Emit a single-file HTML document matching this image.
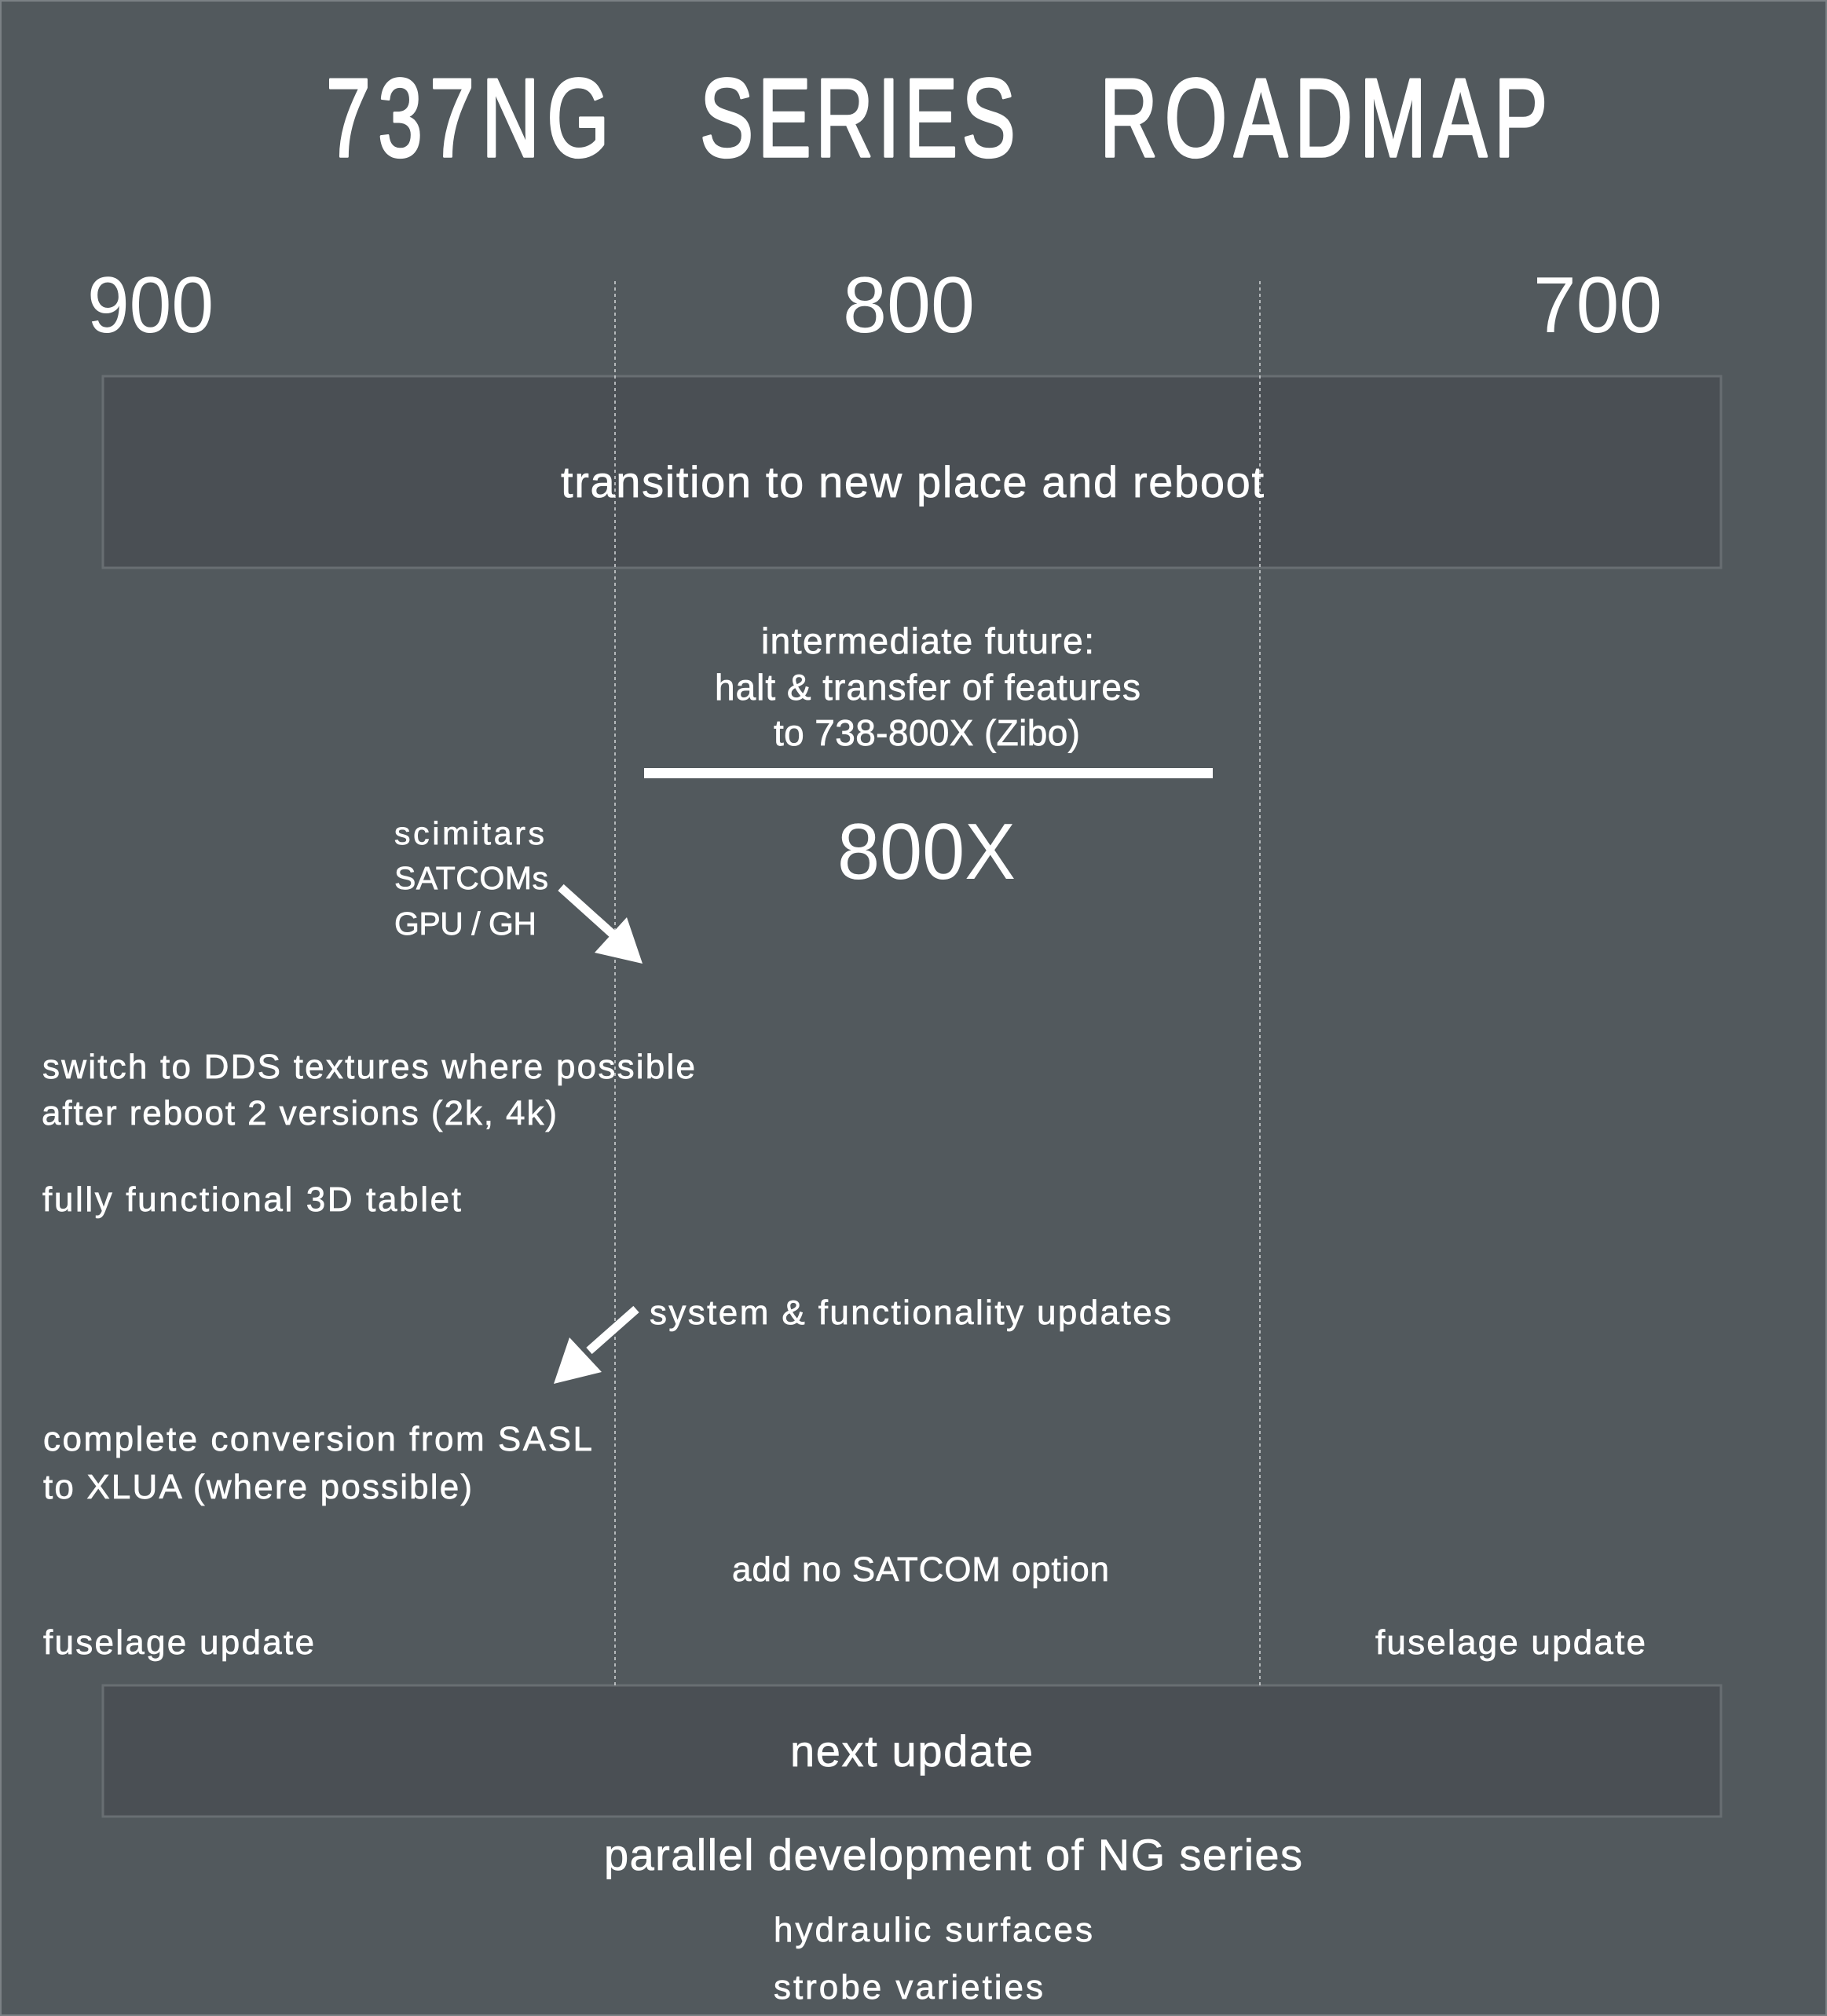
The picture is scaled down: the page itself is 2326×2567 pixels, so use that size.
<!DOCTYPE html>
<html>
<head>
<meta charset="utf-8">
<style>
  html, body { margin: 0; padding: 0; background: #52595d; }
  svg { display: block; }
  text { font-family: "Liberation Sans", "DejaVu Sans", sans-serif; fill: #ffffff; }
  .b { stroke: #ffffff; stroke-width: 0.7; }
  .t { stroke: #ffffff; stroke-width: 3.5; stroke-linejoin: round; }
</style>
</head>
<body>
<svg width="2326" height="2567" viewBox="0 0 2326 2567" xmlns="http://www.w3.org/2000/svg">
  <!-- background -->
  <rect x="0" y="0" width="2326" height="2567" fill="#52595d"/>
  <rect x="1" y="1" width="2324" height="2565" fill="none" stroke="#7b8185" stroke-width="2"/>

  <!-- title (narrowed glyphs, wide tracking) -->
  <g transform="translate(415,199) scale(0.72,1)">
    <text x="0" y="0" font-size="142" textLength="501" lengthAdjust="spacing" class="t">737NG</text>
  </g>
  <g transform="translate(891,199) scale(0.72,1)">
    <text x="0" y="0" font-size="142" textLength="558" lengthAdjust="spacing" class="t">SERIES</text>
  </g>
  <g transform="translate(1400,199) scale(0.72,1)">
    <text x="0" y="0" font-size="142" textLength="792" lengthAdjust="spacing" class="t">ROADMAP</text>
  </g>

  <!-- column headers -->
  <text x="111" y="423" font-size="101" textLength="161" lengthAdjust="spacingAndGlyphs">900</text>
  <text x="1073" y="423" font-size="101" textLength="168" lengthAdjust="spacingAndGlyphs">800</text>
  <text x="1952" y="423" font-size="101" textLength="164" lengthAdjust="spacingAndGlyphs">700</text>

  <!-- top box -->
  <rect x="131" y="479" width="2060" height="244" fill="#4a4f54" stroke="#686e72" stroke-width="3"/>

  <!-- bottom box -->
  <rect x="131" y="2146" width="2060" height="167" fill="#4a4f54" stroke="#686e72" stroke-width="3"/>

  <!-- dotted column dividers -->
  <line x1="783" y1="358" x2="783" y2="2147" stroke="#d4d7d9" stroke-width="1.5" stroke-dasharray="4 4"/>
  <line x1="1604" y1="358" x2="1604" y2="2147" stroke="#d4d7d9" stroke-width="1.5" stroke-dasharray="4 4"/>

  <!-- top box text -->
  <text x="714" y="633" font-size="56" textLength="895" lengthAdjust="spacing" class="b">transition to new place and reboot</text>

  <!-- intermediate future -->
  <text x="969" y="832" font-size="46" textLength="424" lengthAdjust="spacing" class="b">intermediate future:</text>
  <text x="910" y="891" font-size="46" textLength="542" lengthAdjust="spacing" class="b">halt &amp; transfer of features</text>
  <text x="985" y="949" font-size="46" textLength="390" lengthAdjust="spacing" class="b">to 738-800X (Zibo)</text>
  <rect x="820" y="978" width="724" height="13" fill="#ffffff"/>
  <text x="1066" y="1119" font-size="101" textLength="227" lengthAdjust="spacingAndGlyphs">800X</text>

  <!-- scimitars block -->
  <text x="502" y="1075" font-size="41" textLength="191" lengthAdjust="spacing" class="b">scimitars</text>
  <text x="502" y="1132" font-size="41" textLength="196" lengthAdjust="spacing" class="b">SATCOMs</text>
  <text x="502" y="1190" font-size="41" textLength="181" lengthAdjust="spacing" class="b">GPU / GH</text>

  <!-- arrow 1 -->
  <line x1="714" y1="1130" x2="784" y2="1193" stroke="#ffffff" stroke-width="11"/>
  <polygon points="818,1227 757,1213 798,1168" fill="#ffffff"/>

  <!-- left column texts -->
  <text x="54" y="1373" font-size="44" textLength="831" lengthAdjust="spacing" class="b">switch to DDS textures where possible</text>
  <text x="53" y="1432" font-size="44" textLength="656" lengthAdjust="spacing" class="b">after reboot 2 versions (2k, 4k)</text>
  <text x="54" y="1542" font-size="44" textLength="533" lengthAdjust="spacing" class="b">fully functional 3D tablet</text>

  <!-- system updates -->
  <text x="827" y="1686" font-size="44" textLength="664" lengthAdjust="spacing" class="b">system &amp; functionality updates</text>

  <!-- arrow 2 -->
  <line x1="810" y1="1667" x2="750" y2="1720" stroke="#ffffff" stroke-width="11"/>
  <polygon points="705,1762 725,1703 766,1747" fill="#ffffff"/>

  <text x="55" y="1847" font-size="44" textLength="699" lengthAdjust="spacing" class="b">complete conversion from SASL</text>
  <text x="55" y="1908" font-size="44" textLength="546" lengthAdjust="spacing" class="b">to XLUA (where possible)</text>

  <text x="932" y="2013" font-size="44" textLength="480" lengthAdjust="spacing" class="b">add no SATCOM option</text>

  <text x="55" y="2106" font-size="44" textLength="345" lengthAdjust="spacing" class="b">fuselage update</text>
  <text x="1751" y="2106" font-size="44" textLength="344" lengthAdjust="spacing" class="b">fuselage update</text>

  <!-- bottom box text -->
  <text x="1006" y="2249" font-size="56" textLength="309" lengthAdjust="spacing" class="b">next update</text>

  <!-- parallel development -->
  <text x="769" y="2381" font-size="56" textLength="889" lengthAdjust="spacing" class="b">parallel development of NG series</text>
  <text x="985" y="2472" font-size="44" textLength="406" lengthAdjust="spacing" class="b">hydraulic surfaces</text>
  <text x="985" y="2545" font-size="44" textLength="343" lengthAdjust="spacing" class="b">strobe varieties</text>
</svg>
</body>
</html>
